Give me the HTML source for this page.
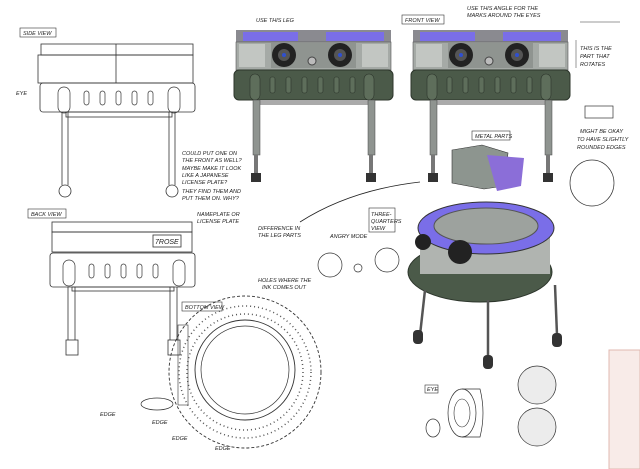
<!DOCTYPE html>
<html><head><style>
html,body{margin:0;padding:0;background:#fff;width:640px;height:469px;overflow:hidden}
svg{display:block}
text{font-family:"Liberation Sans",sans-serif;font-size:5.5px;font-style:italic;fill:#222}
</style></head><body>
<svg width="640" height="469" viewBox="0 0 640 469" xmlns="http://www.w3.org/2000/svg">
<defs>
<g id="front">
 <rect x="0" y="0" width="155" height="12" fill="#8a8a90"/>
 <rect x="7" y="2" width="55" height="9" fill="#7a6ee8"/>
 <rect x="90" y="2" width="58" height="9" fill="#7a6ee8"/>
 <rect x="0" y="12" width="155" height="28" fill="#a5aaa6" stroke="#555" stroke-width="0.6"/>
 <rect x="3" y="14" width="26" height="23" fill="#c2c6c2"/>
 <rect x="126" y="14" width="26" height="23" fill="#c2c6c2"/>
 <rect x="35" y="13" width="85" height="25" fill="#8f9490"/>
 <circle cx="48" cy="25" r="12" fill="#222"/><circle cx="48" cy="25" r="6" fill="#555"/><circle cx="48" cy="25" r="2" fill="#3050d0"/>
 <circle cx="104" cy="25" r="12" fill="#222"/><circle cx="104" cy="25" r="6" fill="#555"/><circle cx="104" cy="25" r="2" fill="#3050d0"/>
 <circle cx="76" cy="31" r="4" fill="#bbb" stroke="#444"/>
 <rect x="-2" y="40" width="159" height="30" rx="5" fill="#4b5a49" stroke="#2c352b"/>
 <g fill="#5e6e5b" stroke="#2c352b" stroke-width="0.6">
  <rect x="14" y="44" width="10" height="26" rx="5"/><rect x="34" y="47" width="5" height="16" rx="2"/><rect x="50" y="47" width="5" height="16" rx="2"/><rect x="66" y="47" width="5" height="16" rx="2"/><rect x="82" y="47" width="5" height="16" rx="2"/><rect x="98" y="47" width="5" height="16" rx="2"/><rect x="114" y="47" width="5" height="16" rx="2"/><rect x="128" y="44" width="10" height="26" rx="5"/>
 </g>
 <rect x="20" y="70" width="115" height="5" fill="#aaa"/>
 <rect x="17" y="70" width="7" height="55" fill="#8f9490" stroke="#444" stroke-width="0.5"/>
 <rect x="132" y="70" width="7" height="55" fill="#8f9490" stroke="#444" stroke-width="0.5"/>
 <rect x="18" y="125" width="4" height="20" fill="#777"/><rect x="133" y="125" width="4" height="20" fill="#777"/>
 <rect x="15" y="143" width="10" height="9" fill="#333"/><rect x="130" y="143" width="10" height="9" fill="#333"/>
</g>
<g id="band" fill="none" stroke="#333" stroke-width="0.7">
 <rect x="18" y="4" width="12" height="26" rx="6"/><rect x="128" y="4" width="12" height="26" rx="6"/>
 <rect x="44" y="8" width="5" height="14" rx="2.5"/><rect x="60" y="8" width="5" height="14" rx="2.5"/><rect x="76" y="8" width="5" height="14" rx="2.5"/><rect x="92" y="8" width="5" height="14" rx="2.5"/><rect x="108" y="8" width="5" height="14" rx="2.5"/>
</g>
</defs>
<use href="#front" x="236" y="30"/>
<use href="#front" x="413" y="30"/>

<text x="256" y="22">USE THIS LEG</text>
<rect x="402" y="15" width="42" height="9" fill="none" stroke="#333" stroke-width="0.6"/><text x="405" y="22">FRONT VIEW</text>
<text x="467" y="10">USE THIS ANGLE FOR THE</text><text x="467" y="17">MARKS AROUND THE EYES</text>
<text x="580" y="50">THIS IS THE</text><text x="580" y="58">PART THAT</text><text x="580" y="66">ROTATES</text>
<line x1="576" y1="40" x2="576" y2="68" stroke="#333" stroke-width="0.5"/>
<line x1="580" y1="22" x2="620" y2="22" stroke="#333" stroke-width="0.6"/>
<rect x="585" y="106" width="28" height="12" fill="none" stroke="#333" stroke-width="0.7"/>
<text x="580" y="133">MIGHT BE OKAY</text><text x="577" y="141">TO HAVE SLIGHTLY</text><text x="577" y="149">ROUNDED EDGES</text>
<ellipse cx="592" cy="183" rx="22" ry="23" fill="none" stroke="#333" stroke-width="0.7"/>

<rect x="472" y="131" width="38" height="9" fill="none" stroke="#333" stroke-width="0.6"/><text x="475" y="138">METAL PARTS</text>
<path d="M452 150 l30 -5 l26 8 l-4 33 l-20 3 l-32 -6z" fill="#8d958f" stroke="#333" stroke-width="0.6"/>
<path d="M487 155 l37 3 l-3 28 l-24 5 z" fill="#8b6ed8"/>

<ellipse cx="480" cy="272" rx="72" ry="30" fill="#4b5a49" stroke="#2c352b"/>
<rect x="420" y="232" width="130" height="42" fill="#b0b4b0"/>
<ellipse cx="486" cy="228" rx="68" ry="26" fill="#7a6ee8" stroke="#333"/>
<ellipse cx="486" cy="226" rx="52" ry="18" fill="#9da29e" stroke="#555"/>
<circle cx="460" cy="252" r="12" fill="#222"/><circle cx="423" cy="242" r="8" fill="#222"/>
<g stroke="#555" stroke-width="2.5"><line x1="425" y1="290" x2="420" y2="335"/><line x1="488" y1="300" x2="488" y2="360"/><line x1="555" y1="285" x2="557" y2="335"/></g>
<g fill="#333"><rect x="413" y="330" width="10" height="14" rx="4"/><rect x="483" y="355" width="10" height="14" rx="4"/><rect x="552" y="333" width="10" height="14" rx="4"/></g>
<rect x="369" y="208" width="26" height="24" fill="none" stroke="#333" stroke-width="0.6"/><text x="371" y="216">THREE-</text><text x="371" y="223">QUARTERS</text><text x="371" y="230">VIEW</text>

<rect x="425" y="385" width="13" height="8" fill="none" stroke="#333" stroke-width="0.6"/><text x="427" y="391">EYE</text>
<ellipse cx="433" cy="428" rx="7" ry="9" fill="none" stroke="#333" stroke-width="0.7"/>
<ellipse cx="462" cy="413" rx="14" ry="24" fill="none" stroke="#333" stroke-width="0.7"/>
<ellipse cx="462" cy="413" rx="8" ry="14" fill="none" stroke="#333" stroke-width="0.6"/>
<path d="M462 389 h18 q6 24 0 48 h-18" fill="none" stroke="#333" stroke-width="0.7"/>
<circle cx="537" cy="385" r="19" fill="#ececec" stroke="#333" stroke-width="0.7"/>
<circle cx="537" cy="427" r="19" fill="#ececec" stroke="#333" stroke-width="0.7"/>
<rect x="609" y="350" width="31" height="119" fill="#f8ebe8" stroke="#e0b8b0"/>

<rect x="20" y="28" width="36" height="9" fill="none" stroke="#333" stroke-width="0.6"/><text x="23" y="35">SIDE VIEW</text>
<g fill="none" stroke="#333" stroke-width="0.8">
<rect x="41" y="44" width="152" height="11"/><rect x="38" y="55" width="155" height="28"/>
<line x1="116" y1="44" x2="116" y2="83"/>
<rect x="40" y="83" width="155" height="29" rx="3"/>
<rect x="66" y="112" width="106" height="5"/>
<line x1="62" y1="112" x2="62" y2="185"/><line x1="68" y1="112" x2="68" y2="185"/>
<line x1="169" y1="112" x2="169" y2="185"/><line x1="175" y1="112" x2="175" y2="185"/>
<circle cx="65" cy="191" r="6"/><circle cx="172" cy="191" r="6"/>
</g>
<use href="#band" x="40" y="83"/>
<text x="16" y="95">EYE</text>
<rect x="28" y="209" width="38" height="9" fill="none" stroke="#333" stroke-width="0.6"/><text x="31" y="216">BACK VIEW</text>
<g fill="none" stroke="#333" stroke-width="0.8">
<rect x="52" y="222" width="140" height="10"/><rect x="52" y="232" width="140" height="20"/>
<rect x="50" y="253" width="145" height="34" rx="3"/>
<rect x="153" y="235" width="28" height="12"/>
<rect x="72" y="287" width="102" height="4"/>
<line x1="68" y1="287" x2="68" y2="340"/><line x1="75" y1="287" x2="75" y2="340"/>
<line x1="170" y1="287" x2="170" y2="340"/><line x1="177" y1="287" x2="177" y2="340"/>
<rect x="66" y="340" width="12" height="15"/><rect x="168" y="340" width="12" height="15"/>
</g>
<use href="#band" x="45" y="256"/>
<text x="155" y="244" style="font-size:7px">7ROSE</text>
<text x="182" y="155">COULD PUT ONE ON</text><text x="182" y="162">THE FRONT AS WELL?</text>
<text x="182" y="170">MAYBE MAKE IT LOOK</text><text x="182" y="177">LIKE A JAPANESE</text><text x="182" y="184">LICENSE PLATE?</text>
<text x="182" y="193">THEY FIND THEM AND</text><text x="182" y="200">PUT THEM ON. WHY?</text>
<text x="197" y="216">NAMEPLATE OR</text><text x="197" y="223">LICENSE PLATE</text>
<text x="258" y="230">DIFFERENCE IN</text><text x="258" y="237">THE LEG PARTS</text>
<path d="M300 222 Q 350 190 420 182" fill="none" stroke="#222" stroke-width="0.8"/>
<text x="330" y="238">ANGRY MODE</text>
<circle cx="330" cy="265" r="12" fill="none" stroke="#333" stroke-width="0.7"/>
<circle cx="358" cy="268" r="4" fill="none" stroke="#333" stroke-width="0.7"/>
<circle cx="387" cy="260" r="12" fill="none" stroke="#333" stroke-width="0.7"/>
<text x="258" y="282">HOLES WHERE THE</text><text x="262" y="289">INK COMES OUT</text>
<rect x="182" y="302" width="40" height="9" fill="none" stroke="#333" stroke-width="0.6"/><text x="185" y="309">BOTTOM VIEW</text>
<circle cx="245" cy="372" r="76" fill="none" stroke="#333" stroke-width="0.9" stroke-dasharray="3 2"/>
<circle cx="245" cy="372" r="66" fill="none" stroke="#555" stroke-width="1.5" stroke-dasharray="1 3"/>
<circle cx="245" cy="372" r="58" fill="none" stroke="#555" stroke-width="1.5" stroke-dasharray="1 3"/>
<circle cx="245" cy="370" r="50" fill="none" stroke="#333" stroke-width="0.9"/>
<circle cx="245" cy="370" r="44" fill="none" stroke="#333" stroke-width="0.7"/>
<rect x="178" y="325" width="10" height="80" fill="none" stroke="#333" stroke-width="0.6"/>
<ellipse cx="157" cy="404" rx="16" ry="6" fill="none" stroke="#333" stroke-width="0.7"/>
<text x="100" y="416">EDGE</text><text x="152" y="424">EDGE</text><text x="172" y="440">EDGE</text><text x="215" y="450">EDGE</text>
</svg>
</body></html>
